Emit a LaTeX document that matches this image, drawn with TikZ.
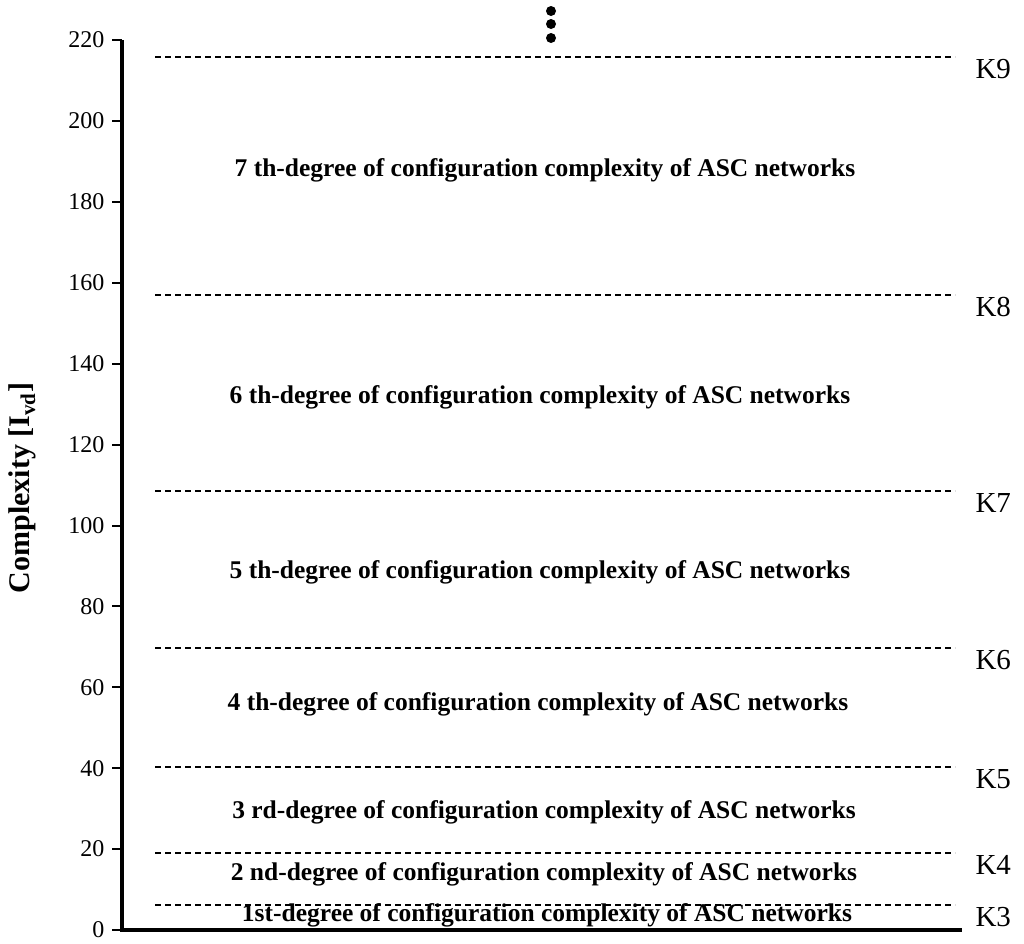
\documentclass[tikz,border=0pt]{standalone}
\usepackage{fontspec}
\setmainfont{Liberation Serif}
\begin{document}
\begin{tikzpicture}[x=1pt,y=-1pt,
  dl/.style={line width=1.5pt,dash pattern=on 6pt off 4pt},
  kl/.style={anchor=west,font=\fontsize{29}{31}\selectfont},
  tl/.style={anchor=east,font=\fontsize{24}{26}\selectfont},
  bl/.style={font=\bfseries\fontsize{25.5}{27}\selectfont}]
\useasboundingbox (0,0) rectangle (1024,943);
% axes
\coordinate (o) at (122,930);
\coordinate (top) at (122,40);
\coordinate (r) at (962,930);
\draw[line width=3.5pt] (top) -- (o) -- (r);
\foreach \v in {0,20,...,220}{
  \pgfmathsetmacro{\yy}{930-4.045*\v}
  \draw[line width=2pt] (112,\yy) -- (122,\yy);
  \node[tl] (t\v) at (108,\yy) {\v};
}
\node[rotate=90,font=\bfseries\fontsize{30}{32}\selectfont] (ylab) at (22,488) {Complexity [I\textsubscript{vd}]};
% dots
\foreach \d/\yy in {a/11,b/24,c/38}{\fill (551,\yy) circle (5pt) coordinate (dot\d);}
% dashed levels
\foreach \k/\yy in {K9/57,K8/295,K7/491,K6/648,K5/767,K4/853,K3/905}{
  \coordinate (s\k) at (155,\yy);
  \coordinate (e\k) at (955,\yy);
  \draw[dl] (s\k) -- (e\k);
  \node[kl] (l\k) at (972,\yy+12) {\k};
}
\node[bl] (d7) at (545,170) {7 th-degree of configuration complexity of ASC networks};
\node[bl] (d6) at (540,397) {6 th-degree of configuration complexity of ASC networks};
\node[bl] (d5) at (540,572) {5 th-degree of configuration complexity of ASC networks};
\node[bl] (d4) at (538,704) {4 th-degree of configuration complexity of ASC networks};
\node[bl] (d3) at (544,812) {3 rd-degree of configuration complexity of ASC networks};
\node[bl] (d2) at (544,874) {2 nd-degree of configuration complexity of ASC networks};
\node[bl] (d1) at (547,915) {1st-degree of configuration complexity of ASC networks};
\end{tikzpicture}
\end{document}
